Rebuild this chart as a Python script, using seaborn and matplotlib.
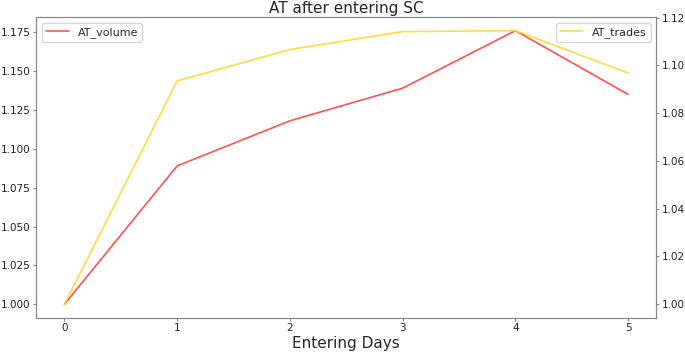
import numpy as np
import pandas as pd
import matplotlib
matplotlib.use("Agg")
import matplotlib.pyplot as plt
import seaborn as sns

# values
days = [0, 1, 2, 3, 4, 5]
at_volume = [1.000, 1.089, 1.118, 1.139, 1.176, 1.135]
at_trades = [1.000, 1.0935, 1.1066, 1.1141, 1.1145, 1.0968]

df = pd.DataFrame({"Entering Days": days, "AT_volume": at_volume, "AT_trades": at_trades})

sns.set_style("ticks")
plt.rcParams["font.family"] = ["DejaVu Sans"]
plt.rcParams["axes.edgecolor"] = "#888888"
plt.rcParams["xtick.color"] = "#888888"
plt.rcParams["ytick.color"] = "#888888"
plt.rcParams["xtick.labelcolor"] = "#222222"
plt.rcParams["ytick.labelcolor"] = "#222222"

fig, ax = plt.subplots(figsize=(6.85, 3.54), dpi=100)
sns.lineplot(data=df, x="Entering Days", y="AT_volume", ax=ax, color="#ff4040", alpha=0.9,
             linewidth=1.2, label="AT_volume")
ax2 = ax.twinx()
sns.lineplot(data=df, x="Entering Days", y="AT_trades", ax=ax2, color="#ffd92a", alpha=0.9,
             linewidth=1.2, label="AT_trades")

ax.set_title("AT after entering SC", fontsize=11, pad=3)
ax.set_xlabel("Entering Days", fontsize=11, labelpad=2)
ax.set_ylabel("")
ax2.set_ylabel("")
ax.set_yticks([1.000, 1.025, 1.050, 1.075, 1.100, 1.125, 1.150, 1.175])
ax.yaxis.set_major_formatter(matplotlib.ticker.FormatStrFormatter("%.3f"))
ax2.set_yticks([1.00, 1.02, 1.04, 1.06, 1.08, 1.10, 1.12])
ax2.yaxis.set_major_formatter(matplotlib.ticker.FormatStrFormatter("%.2f"))
ax.tick_params(labelsize=7.5, length=2.5, pad=1.5)
ax2.tick_params(labelsize=7.5, length=2.5, pad=1.5)
for a in (ax, ax2):
    for s in a.spines.values():
        s.set_visible(True)
        s.set_color("#888888")

ax.legend(loc="upper left", fontsize=8)
ax2.legend(loc="upper right", fontsize=8)

fig.subplots_adjust(left=0.053, right=0.958, top=0.952, bottom=0.102)
fig.savefig("out.png", dpi=100)
